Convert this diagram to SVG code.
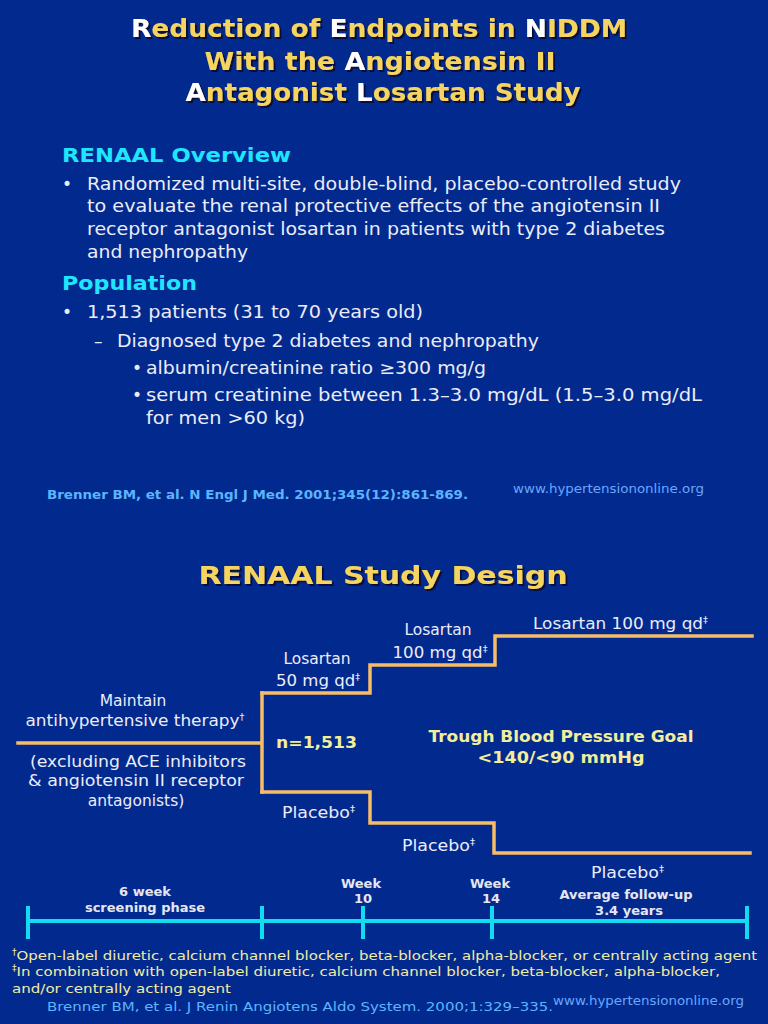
<svg xmlns="http://www.w3.org/2000/svg" width="768" height="1024" viewBox="0 0 768 1024">
<defs>
<filter id="sh" x="-5%" y="-20%" width="110%" height="150%">
<feDropShadow dx="2" dy="2" stdDeviation="0.4" flood-color="#10103a" flood-opacity="1"/>
</filter>
</defs>
<style>
.t{font-family:"DejaVu Sans",Verdana,sans-serif;font-weight:bold;font-size:24px;fill:#f5d45e;filter:url(#sh)}
.w{fill:#ffffff}
.h{font-family:"DejaVu Sans",Verdana,sans-serif;font-weight:bold;font-size:20px;fill:#1ee6ff}
.b{font-family:"DejaVu Sans",Verdana,sans-serif;font-size:17px;fill:#ececf8}
.c{font-family:"DejaVu Sans",Verdana,sans-serif;font-size:12px;fill:#5cb4ff}
.u{font-family:"DejaVu Sans",Verdana,sans-serif;font-size:12px;fill:#6aa6ff}
.l{font-family:"DejaVu Sans",Verdana,sans-serif;font-size:15.5px;fill:#ececf8}
.y{font-family:"DejaVu Sans",Verdana,sans-serif;font-size:16px;font-weight:bold;fill:#f3ee9c}
.s{font-family:"DejaVu Sans",Verdana,sans-serif;font-size:13px;font-weight:bold;fill:#e6e6f2}
.f{font-family:"DejaVu Sans",Verdana,sans-serif;font-size:13px;fill:#f3eca4}
.o{fill:none;stroke:#f6bc68;stroke-width:3.5;stroke-linecap:square}
.tl{fill:none;stroke:#14dcf0;stroke-width:4}
</style>
<rect width="768" height="1024" fill="#022a8e"/>

<g id="title1">
<text class="t" x="379" y="37" text-anchor="middle" textLength="496" lengthAdjust="spacingAndGlyphs"><tspan class="w">R</tspan>eduction of <tspan class="w">E</tspan>ndpoints in <tspan class="w">N</tspan>IDDM</text>
<text class="t" x="380" y="70" text-anchor="middle" textLength="351" lengthAdjust="spacingAndGlyphs">With the <tspan class="w">A</tspan>ngiotensin II</text>
<text class="t" x="383" y="101" text-anchor="middle" textLength="395" lengthAdjust="spacingAndGlyphs"><tspan class="w">A</tspan>ntagonist <tspan class="w">L</tspan>osartan Study</text>
</g>

<g id="overview">
<text class="h" x="62" y="162" textLength="229" lengthAdjust="spacingAndGlyphs">RENAAL Overview</text>
<text class="b" x="62" y="190">•</text>
<text class="b" x="87" y="190" textLength="594" lengthAdjust="spacingAndGlyphs">Randomized multi-site, double-blind, placebo-controlled study</text>
<text class="b" x="87" y="212" textLength="573" lengthAdjust="spacingAndGlyphs">to evaluate the renal protective effects of the angiotensin II</text>
<text class="b" x="87" y="235" textLength="578" lengthAdjust="spacingAndGlyphs">receptor antagonist losartan in patients with type 2 diabetes</text>
<text class="b" x="87" y="258" textLength="161" lengthAdjust="spacingAndGlyphs">and nephropathy</text>
</g>

<g id="population">
<text class="h" x="62" y="290" textLength="135" lengthAdjust="spacingAndGlyphs">Population</text>
<text class="b" x="62" y="318">•</text>
<text class="b" x="87" y="318" textLength="336" lengthAdjust="spacingAndGlyphs">1,513 patients (31 to 70 years old)</text>
<text class="b" x="94" y="347">–</text>
<text class="b" x="117" y="347" textLength="422" lengthAdjust="spacingAndGlyphs">Diagnosed type 2 diabetes and nephropathy</text>
<text class="b" x="132" y="374">•</text>
<text class="b" x="146" y="374" textLength="340" lengthAdjust="spacingAndGlyphs">albumin/creatinine ratio ≥300 mg/g</text>
<text class="b" x="132" y="401">•</text>
<text class="b" x="146" y="401" textLength="556" lengthAdjust="spacingAndGlyphs">serum creatinine between 1.3–3.0 mg/dL (1.5–3.0 mg/dL</text>
<text class="b" x="146" y="424" textLength="159" lengthAdjust="spacingAndGlyphs">for men &gt;60 kg)</text>
</g>

<g id="refs1">
<text class="c" x="47" y="499" font-weight="bold" textLength="421" lengthAdjust="spacingAndGlyphs">Brenner BM, et al. N Engl J Med. 2001;345(12):861-869.</text>
<text class="u" x="513" y="493" textLength="191" lengthAdjust="spacingAndGlyphs">www.hypertensiononline.org</text>
</g>

<g id="title2">
<text class="t" x="383" y="584" text-anchor="middle" font-size="28" textLength="369" lengthAdjust="spacingAndGlyphs">RENAAL Study Design</text>
</g>

<g id="connectors">
<path class="o" d="M18 743 H262 M262 693 V792"/>
<path class="o" d="M262 693 H370 V665 H495 V636 H752"/>
<path class="o" d="M262 792 H370 V823 H494 V853 H750"/>
</g>

<g id="maintain">
<text class="l" x="133" y="706" text-anchor="middle">Maintain</text>
<text class="l" x="135" y="726" text-anchor="middle" textLength="219" lengthAdjust="spacingAndGlyphs">antihypertensive therapy<tspan font-size="9" dy="-6">†</tspan></text>
<text class="l" x="138" y="767" text-anchor="middle" textLength="216" lengthAdjust="spacingAndGlyphs">(excluding ACE inhibitors</text>
<text class="l" x="136" y="786" text-anchor="middle" textLength="216" lengthAdjust="spacingAndGlyphs">&amp; angiotensin II receptor</text>
<text class="l" x="136" y="806" text-anchor="middle">antagonists)</text>
</g>

<g id="n">
<text class="y" x="276" y="748" textLength="81" lengthAdjust="spacingAndGlyphs">n=1,513</text>
</g>

<g id="los50">
<text class="l" x="317" y="664" text-anchor="middle">Losartan</text>
<text class="l" x="318" y="686" text-anchor="middle" textLength="84" lengthAdjust="spacingAndGlyphs">50 mg qd<tspan font-size="9" dy="-6">‡</tspan></text>
</g>
<g id="los100a">
<text class="l" x="438" y="635" text-anchor="middle">Losartan</text>
<text class="l" x="440" y="658" text-anchor="middle" textLength="95" lengthAdjust="spacingAndGlyphs">100 mg qd<tspan font-size="9" dy="-6">‡</tspan></text>
</g>
<g id="los100b">
<text class="l" x="533" y="629" textLength="175" lengthAdjust="spacingAndGlyphs">Losartan 100 mg qd<tspan font-size="9" dy="-6">‡</tspan></text>
</g>

<g id="goal">
<text class="y" x="561" y="742" text-anchor="middle" textLength="265" lengthAdjust="spacingAndGlyphs">Trough Blood Pressure Goal</text>
<text class="y" x="561" y="763" text-anchor="middle" textLength="167" lengthAdjust="spacingAndGlyphs">&lt;140/&lt;90 mmHg</text>
</g>

<g id="placebo1"><text class="l" x="282" y="818" textLength="73" lengthAdjust="spacingAndGlyphs">Placebo<tspan font-size="9" dy="-6">‡</tspan></text></g>
<g id="placebo2"><text class="l" x="402" y="851" textLength="73" lengthAdjust="spacingAndGlyphs">Placebo<tspan font-size="9" dy="-6">‡</tspan></text></g>
<g id="placebo3"><text class="l" x="591" y="878" textLength="73" lengthAdjust="spacingAndGlyphs">Placebo<tspan font-size="9" dy="-6">‡</tspan></text></g>

<g id="timeline">
<path class="tl" d="M28 921 H748 M28 906 V939 M262 906 V939 M363 906 V939 M492 906 V939 M747 906 V939"/>
<text class="s" x="145" y="896" text-anchor="middle">6 week</text>
<text class="s" x="145" y="912" text-anchor="middle">screening phase</text>
<text class="s" x="361" y="888" text-anchor="middle">Week</text>
<text class="s" x="363" y="903" text-anchor="middle">10</text>
<text class="s" x="490" y="888" text-anchor="middle">Week</text>
<text class="s" x="491" y="903" text-anchor="middle">14</text>
<text class="s" x="626" y="899" text-anchor="middle">Average follow-up</text>
<text class="s" x="629" y="915" text-anchor="middle">3.4 years</text>
</g>

<g id="footnotes">
<text class="f" x="12" y="960" textLength="745" lengthAdjust="spacingAndGlyphs"><tspan font-size="8" dy="-5">†</tspan><tspan dy="5">Open-label diuretic, calcium channel blocker, beta-blocker, alpha-blocker, or centrally acting agent</tspan></text>
<text class="f" x="12" y="976" textLength="708" lengthAdjust="spacingAndGlyphs"><tspan font-size="8" dy="-5">‡</tspan><tspan dy="5">In combination with open-label diuretic, calcium channel blocker, beta-blocker, alpha-blocker,</tspan></text>
<text class="f" x="12" y="993" textLength="219" lengthAdjust="spacingAndGlyphs">and/or centrally acting agent</text>
</g>

<g id="refs2">
<text class="c" x="47" y="1011" font-size="13" textLength="506" lengthAdjust="spacingAndGlyphs">Brenner BM, et al. J Renin Angiotens Aldo System. 2000;1:329–335.</text>
<text class="u" x="553" y="1005" textLength="191" lengthAdjust="spacingAndGlyphs">www.hypertensiononline.org</text>
</g>
</svg>
